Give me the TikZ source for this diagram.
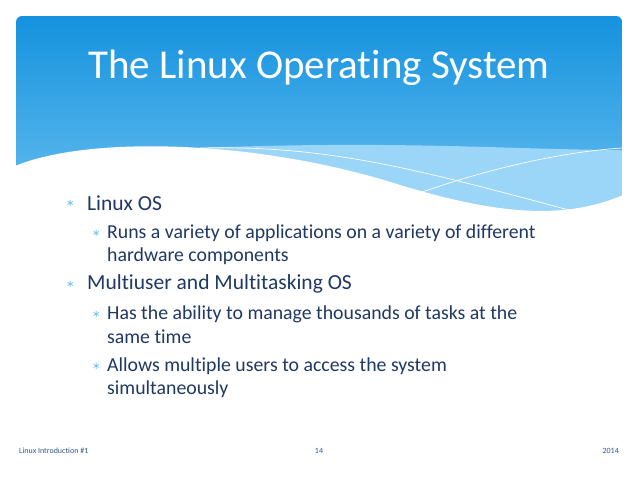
\documentclass[tikz,border=0pt]{standalone}
\usepackage{fontspec}
\setmainfont[Ligatures=NoCommon]{Carlito}
\newfontfamily\symf{DejaVu Sans}
\definecolor{txt}{HTML}{1F3864}
\definecolor{ftr}{HTML}{2E5C8A}
\definecolor{topb}{HTML}{1592DE}
\definecolor{botb}{HTML}{6DC2F2}
\definecolor{lite}{HTML}{9BD5F7}
\begin{document}
\begin{tikzpicture}[x=1pt,y=-1pt,
  lvlone/.style={anchor=west,text=txt,font=\fontsize{21.5}{24}\selectfont,inner sep=0},
  lvltwo/.style={anchor=west,text=txt,font=\fontsize{19.8}{22}\selectfont,inner sep=0},
  bul/.style={anchor=west,text=botb,font=\symf\fontsize{10}{12}\selectfont,inner sep=0},
  foot/.style={text=ftr,font=\fontsize{8}{10}\selectfont,inner sep=0}]
\useasboundingbox (0,0) rectangle (638,479);
\fill[white] (0,0) rectangle (638,479);
\begin{scope}
\clip[rounded corners=6] (16,16) rectangle (622,230);
\shade[top color=topb,bottom color=botb] (16,16) rectangle (622,230);
\fill[lite] (200,148) .. controls (400,140) and (520,150) .. (622,150) -- (622,230) -- (400,230) -- cycle;
\draw[white,line width=0.7] (200,148) .. controls (330,145) and (420,170) .. (580,213);
\draw[white,line width=0.7] (400,200) .. controls (480,170) and (560,152) .. (622,148);
\end{scope}
\fill[white] (15,166) .. controls (90,135) and (260,140) .. (400,185) .. controls (490,212) and (560,222) .. (623,195) -- (623,240) -- (15,240) -- cycle;
\node[text=white,font=\fontsize{41}{44}\selectfont,inner sep=0] (title) at (319,68) {The Linux Operating System};
\node[bul] (b1) at (66,203) {∗}; \node[lvlone] (t1) at (87,203) {Linux OS};
\node[bul] (b2) at (92,233) {∗}; \node[lvltwo] (t2) at (107,233) {Runs a variety of applications on a variety of different};
\node[lvltwo] (t3) at (107,256) {hardware components};
\node[bul] (b3) at (66,284) {∗}; \node[lvlone] (t4) at (87,284) {Multiuser and Multitasking OS};
\node[bul] (b4) at (92,314) {∗}; \node[lvltwo] (t5) at (107,314) {Has the ability to manage thousands of tasks at the};
\node[lvltwo] (t6) at (107,337) {same time};
\node[bul] (b5) at (92,366) {∗}; \node[lvltwo] (t7) at (107,366) {Allows multiple users to access the system};
\node[lvltwo] (t8) at (107,389) {simultaneously};
\node[foot,anchor=west] (f1) at (19,451) {Linux Introduction \#1};
\node[foot] (f2) at (319,451) {14};
\node[foot,anchor=east] (f3) at (619,451) {2014};
\end{tikzpicture}
\end{document}
